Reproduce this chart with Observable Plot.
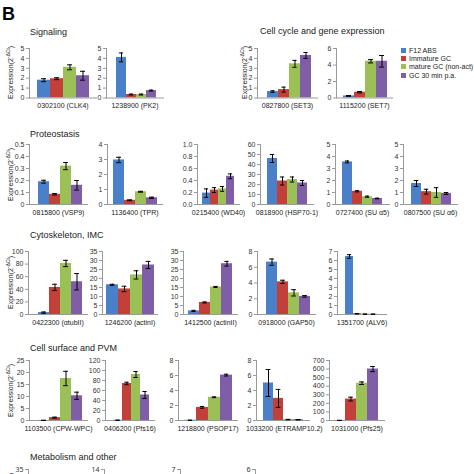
<!DOCTYPE html>
<html>
<head>
<meta charset="utf-8">
<script src="https://cdn.jsdelivr.net/npm/d3@7"></script>
<script src="https://cdn.jsdelivr.net/npm/@observablehq/plot@0.6"></script>
<style>
  body { margin: 0; background: #fff; }
  #fig { position: relative; width: 474px; height: 474px; overflow: hidden;
         font-family: "Liberation Sans", Arial, sans-serif; color: #222; }
  #fig > * { position: absolute; }
  .panel-letter { font-weight: bold; font-size: 18px; color: #000; }
  .row-title { font-size: 9px; white-space: nowrap; }
  .gene { font-size: 7px; white-space: nowrap; text-align: center; }
  .ylab { font-size: 7px; white-space: nowrap; transform-origin: 0 0; transform: rotate(-90deg); }
  .ylab sup { font-size: 5px; }
  .legend { font-size: 7px; line-height: 8.2px; white-space: nowrap; }
  .legend span.sw { display: inline-block; width: 5px; height: 5px; margin-right: 3px; vertical-align: 0px; }
</style>
</head>
<body>
<div id="fig"></div>
<script>
// Stages compared in every panel
const conditions = ["F12 ABS", "Immature GC", "mature GC (non-act)", "GC 30 min p.a."];
const colors = ["#4a7fca", "#c23f3a", "#9bc156", "#7f5da7"];

const rowTitles = ["Signaling", "Cell cycle and gene expression", "Proteostasis",
                   "Cytoskeleton, IMC", "Cell surface and PVM", "Metabolism and other"];

const genes = [
  "0302100 (CLK4)", "1238900 (PK2)", "0827800 (SET3)", "1115200 (SET7)",
  "0815800 (VSP9)", "1136400 (TPR)", "0215400 (WD40)", "0818900 (HSP70-1)", "0727400 (SU α5)", "0807500 (SU α6)",
  "0422300 (αtubII)", "1246200 (actinI)", "1412500 (actinII)", "0918000 (GAP50)", "1351700 (ALV6)",
  "1103500 (CPW-WPC)", "0406200 (Pfs16)", "1218800 (PSOP17)", "1033200 (ETRAMP10.2)", "1031000 (Pfs25)"
];

// Mean expression (2^-ΔCt) per gene, one array per stage
const meanF12 = [1.8, 4.1, 0.65, 0.25,  0.19, 2.97, 0.19, 46, 3.55, 1.75,  3, 16.5, 2, 6.65, 6.45,  0.05, 0.5, 0.03, 5, 1];
const meanImm = [1.95, 0.35, 0.85, 0.7,  0.085, 0.28, 0.24, 23.5, 1.1, 1.07,  43, 14.2, 6.7, 4.15, 0.08,  1.2, 74, 1.75, 2.95, 250];
const meanMat = [3.1, 0.35, 3.45, 4.45,  0.32, 0.85, 0.26, 25, 0.65, 1.0,  81, 22, 15.3, 2.75, 0.04,  17.5, 92, 3.1, 0.12, 435];
const meanAct = [2.25, 0.75, 4.3, 4.45,  0.16, 0.45, 0.47, 21.5, 0.5, 0.92,  52, 27.5, 28.2, 2.3, 0.03,  10.3, 51, 6.05, 0.1, 600];

// Error (±) per gene, one array per stage
const errF12 = [0.15, 0.45, 0.08, 0.05,  0.012, 0.18, 0.07, 4, 0.08, 0.25,  1, 0.3, 0.3, 0.4, 0.2,  0.02, 0.2, 0.01, 1.8, 0.5];
const errImm = [0.1, 0.05, 0.25, 0.08,  0.006, 0.03, 0.04, 4, 0.05, 0.2,  5, 1.5, 0.3, 0.2, 0.02,  0.2, 2.5, 0.12, 1.2, 22];
const errMat = [0.25, 0.05, 0.35, 0.2,  0.03, 0.03, 0.04, 2.5, 0.05, 0.4,  5, 2.3, 0.3, 0.4, 0.01,  3, 6, 0.05, 0.03, 15];
const errAct = [0.45, 0.05, 0.3, 0.7,  0.04, 0.04, 0.04, 2.5, 0.03, 0.08,  13, 2, 1.3, 0.1, 0.01,  1.5, 7, 0.12, 0.03, 30];

// Y-axis extent and tick step for each gene panel
const yMax  = [5, 5, 5, 6,  0.5, 4, 1, 60, 5, 5,  100, 35, 35, 8, 7,  25, 120, 8, 8, 700];
const yStep = [1, 1, 1, 2,  0.1, 1, 0.2, 10, 1, 1,  20, 5, 5, 2, 1,  5, 20, 2, 2, 100];
const yFormat = [null, null, null, null,  null, null, ".1f", null, null, null,  null, null, null, null, null,  null, null, null, null, null];

// Last row: top tick of each axis (the rest lies below the figure's edge)
const stubMax = [35, 14, 7, 6];

const means = [meanF12, meanImm, meanMat, meanAct];
const errs = [errF12, errImm, errMat, errAct];

// ---- layout: rows (y of top tick, y of zero) and panels (axis x, bars left/right, frame end)
const rowY = [[47.5, 97], [144, 204], [251, 314], [360, 420], [469, 529]];
const panelRow = [0, 0, 0, 0,  1, 1, 1, 1, 1, 1,  2, 2, 2, 2, 2,  3, 3, 3, 3, 3];
const panelX = [
  [29, 37, 89, 97], [106, 114, 157, 164], [257, 265, 312, 318], [336, 343, 387, 393],
  [29, 37, 82, 88], [107, 113, 157, 163], [197, 200, 235, 240], [260, 265, 308, 314], [335, 340, 383, 390], [403, 410, 452, 458],
  [28, 37, 82, 88], [102, 105, 154, 158], [183, 186, 233, 238], [257, 265, 310, 316], [337, 343, 378, 387],
  [29, 37, 82, 88], [105, 111, 150, 155], [178, 182, 233, 238], [256, 262, 303, 310], [329, 333, 378, 385]
];
const stubX = [28, 104, 180, 255];
const ylabX = [[9, 0], [243, 0], [9, 1], [9, 2], [9, 3], [9, 4]];
const titlePos = [[30, 27], [260, 26], [30, 129], [30, 230], [30, 343], [30, 452]];

const fig = document.getElementById("fig");
const ML = 24, MT = 6, MB = 2;
const axisColor = "#9a9a9a";

function add(html, cls, left, top, extra) {
  const el = document.createElement("div");
  el.className = cls;
  el.innerHTML = html;
  el.style.left = left + "px";
  el.style.top = top + "px";
  if (extra) Object.assign(el.style, extra);
  fig.appendChild(el);
  return el;
}

add("B", "panel-letter", 2, 4);
rowTitles.forEach((t, i) => add(t, "row-title", titlePos[i][0], titlePos[i][1]));

function yAxisMarks(ticks, fmt) {
  return [
    Plot.axisY({ticks, tickSize: 3, tickPadding: 2, fontSize: 7, stroke: axisColor,
                fill: "#333", tickFormat: fmt ? d3.format(fmt) : (d => String(d)), label: null}),
    Plot.frame({anchor: "left", stroke: axisColor})
  ];
}

genes.forEach((gene, i) => {
  const [axisX, barsL, barsR, endX] = panelX[i];
  const [yTop, y0] = rowY[panelRow[i]];
  const rows = conditions.map((c, k) => ({cond: c, v: means[k][i], e: errs[k][i]}));
  const innerW = endX - axisX;
  const innerH = y0 - yTop;
  const bw = (barsR - barsL) / 4;
  const capInset = Math.max(0, (bw - 5) / 2);
  const ticks = d3.range(0, yMax[i] + yStep[i] / 2, yStep[i]).map(v => +v.toFixed(6));
  const chart = Plot.plot({
    width: ML + innerW + 1,
    height: MT + innerH + MB,
    marginLeft: ML, marginRight: 1, marginTop: MT, marginBottom: MB,
    style: {background: "transparent", fontFamily: "Liberation Sans, Arial, sans-serif", overflow: "visible"},
    x: {type: "band", domain: conditions, range: [ML + barsL - axisX, ML + barsR - axisX], padding: 0, axis: null},
    y: {domain: [0, yMax[i]], axis: null},
    color: {domain: conditions, range: colors},
    marks: [
      Plot.barY(rows, {x: "cond", y: "v", fill: "cond"}),
      ...yAxisMarks(ticks, yFormat[i]),
      Plot.ruleY([0], {stroke: axisColor}),
      Plot.ruleX(rows, {x: "cond", y1: d => Math.max(0, d.v - d.e), y2: d => d.v + d.e, stroke: "#000", strokeWidth: 1}),
      Plot.tickY(rows, {x: "cond", y: d => d.v + d.e, stroke: "#000", insetLeft: capInset, insetRight: capInset}),
      Plot.tickY(rows, {x: "cond", y: d => Math.max(0, d.v - d.e), stroke: "#000", insetLeft: capInset, insetRight: capInset})
    ]
  });
  chart.style.position = "absolute";
  chart.style.left = (axisX - ML) + "px";
  chart.style.top = (yTop - MT) + "px";
  fig.appendChild(chart);
  add(gene, "gene", axisX - 10, y0 + 5, {width: (innerW + 20) + "px"});
});

// Last row: only the top of each axis falls inside the figure
stubX.forEach((axisX, j) => {
  const [yTop, y0] = rowY[4];
  const chart = Plot.plot({
    width: ML + 50, height: MT + (y0 - yTop) + MB,
    marginLeft: ML, marginRight: 1, marginTop: MT, marginBottom: MB,
    style: {background: "transparent", overflow: "visible"},
    x: {type: "band", domain: conditions, axis: null},
    y: {domain: [0, stubMax[j]], axis: null},
    marks: [...yAxisMarks([stubMax[j]], null)]
  });
  chart.style.position = "absolute";
  chart.style.left = (axisX - ML) + "px";
  chart.style.top = (yTop - MT) + "px";
  fig.appendChild(chart);
});

// Y-axis titles
ylabX.forEach(([x, r]) => {
  const [yTop, y0] = rowY[r];
  const el = add("Expression(2<sup>-ΔCt</sup>)", "ylab", x - 4, 0);
  const w = el.getBoundingClientRect().height; // rotated: visual height is text length
  el.style.top = ((yTop + y0) / 2 + w / 2) + "px";
});

// Legend
const leg = add("", "legend", 401, 47);
leg.innerHTML = conditions.map((c, k) =>
  `<div><span class="sw" style="background:${colors[k]}"></span>${c}</div>`).join("");
</script>
</body>
</html>
